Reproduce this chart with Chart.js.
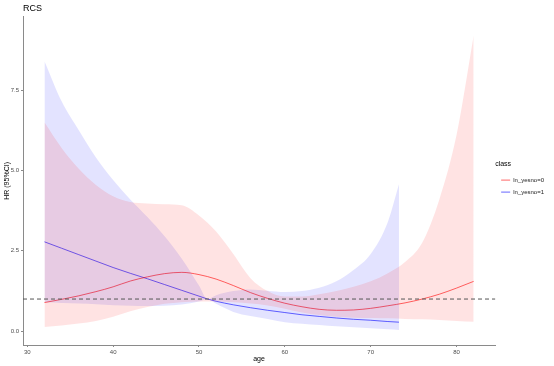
<!DOCTYPE html>
<html lang="en">
<head>
    <meta charset="UTF-8">
    <title>RCS</title>
    <style>
        body {
            margin: 0;
            padding: 0;
            background: #fff;
        }
        canvas {
            display: block;
        }
    </style>
    <script src="https://cdn.jsdelivr.net/npm/chart.js"></script>
</head>
<body>
    <canvas id="rcsChart" width="554" height="366"></canvas>
    <script>
        // ln_yesno=0 (赤)
        const redAges  = [32, 34, 36, 38, 40, 42, 44, 46, 48, 50, 52, 54, 56, 58, 60, 62, 64, 66, 68, 70, 72, 74, 76, 78, 80, 82];
        const redHR    = [0.89, 0.99, 1.10, 1.23, 1.38, 1.56, 1.69, 1.79, 1.83, 1.76, 1.62, 1.42, 1.20, 1.02, 0.87, 0.76, 0.68, 0.65, 0.66, 0.71, 0.79, 0.88, 1.00, 1.15, 1.34, 1.55];
        const redLower = [0.13, 0.18, 0.24, 0.32, 0.45, 0.62, 0.75, 0.85, 0.90, 0.92, 0.92, 0.90, 0.86, 0.80, 0.70, 0.58, 0.50, 0.45, 0.42, 0.41, 0.40, 0.38, 0.37, 0.35, 0.32, 0.29];
        const redUpper = [6.50, 5.70, 5.05, 4.55, 4.20, 4.02, 3.97, 3.95, 3.92, 3.60, 3.10, 2.40, 1.65, 1.25, 1.08, 1.08, 1.15, 1.25, 1.38, 1.55, 1.80, 2.15, 2.75, 4.10, 6.10, 9.20];

        // ln_yesno=1 (青)
        const blueAges  = [32, 34, 36, 38, 40, 42, 44, 46, 48, 50, 51, 52, 54, 56, 58, 60, 62, 64, 66, 68, 70, 72, 73.3];
        const blueHR    = [2.78, 2.58, 2.38, 2.18, 1.98, 1.80, 1.63, 1.45, 1.27, 1.09, 1.00, 0.93, 0.82, 0.73, 0.65, 0.58, 0.51, 0.46, 0.41, 0.37, 0.34, 0.30, 0.28];
        const blueLower = [0.90, 0.88, 0.86, 0.84, 0.81, 0.79, 0.78, 0.79, 0.83, 0.92, 1.00, 0.85, 0.60, 0.47, 0.38, 0.28, 0.23, 0.19, 0.15, 0.12, 0.09, 0.06, 0.04];
        const blueUpper = [8.40, 7.15, 6.25, 5.40, 4.70, 4.10, 3.55, 2.95, 2.25, 1.42, 1.00, 1.12, 1.25, 1.30, 1.26, 1.22, 1.25, 1.35, 1.55, 1.90, 2.40, 3.40, 4.57];

        const classLabels = ['ln_yesno=0', 'ln_yesno=1'];
        const xTicks = [30, 40, 50, 60, 70, 80];
        const yTicks = [0, 2.5, 5, 7.5];
        const refHR = 1;

        const FONT = 'Liberation Sans, Arial, sans-serif';

        const pts = (ages, vals) => ages.map((a, i) => ({ x: a, y: vals[i] }));

        const band = (data, color, fill) => ({
            data: data,
            fill: fill,
            backgroundColor: color,
            borderWidth: 0,
            pointRadius: 0,
            cubicInterpolationMode: 'monotone'
        });

        // y=1 の破線
        const refLinePlugin = {
            id: 'refLine',
            afterDatasetsDraw(chart) {
                const { ctx, chartArea, scales } = chart;
                const y = scales.y.getPixelForValue(refHR);
                ctx.save();
                ctx.strokeStyle = '#555';
                ctx.lineWidth = 1;
                ctx.setLineDash([4, 3]);
                ctx.beginPath();
                ctx.moveTo(chartArea.left, y);
                ctx.lineTo(chartArea.right, y);
                ctx.stroke();
                ctx.restore();
            }
        };

        const axisCommon = {
            type: 'linear',
            grid: { drawOnChartArea: false, tickLength: 2, color: '#8a8a8a' },
            border: { color: '#8a8a8a', width: 1 }
        };

        new Chart(document.getElementById('rcsChart'), {
            type: 'line',
            data: {
                datasets: [
                    band(pts(redAges, redUpper), 'rgba(255,0,0,0.11)', '+1'),
                    band(pts(redAges, redLower), 'transparent', false),
                    band(pts(blueAges, blueUpper), 'rgba(0,0,255,0.11)', '+1'),
                    band(pts(blueAges, blueLower), 'transparent', false),
                    {
                        label: classLabels[0],
                        data: pts(redAges, redHR),
                        borderColor: 'rgba(255,0,0,0.6)',
                        borderWidth: 1,
                        pointRadius: 0,
                        fill: false,
                        cubicInterpolationMode: 'monotone'
                    },
                    {
                        label: classLabels[1],
                        data: pts(blueAges, blueHR),
                        borderColor: 'rgba(0,0,255,0.6)',
                        borderWidth: 1,
                        pointRadius: 0,
                        fill: false,
                        cubicInterpolationMode: 'monotone'
                    }
                ]
            },
            options: {
                responsive: false,
                animation: false,
                layout: { padding: { right: 0 } },
                plugins: {
                    title: {
                        display: true,
                        text: 'RCS',
                        align: 'start',
                        fullSize: false,
                        color: '#000',
                        font: { family: FONT, size: 9, weight: 'normal' },
                        padding: { top: 3, bottom: 3 }
                    },
                    legend: {
                        position: 'right',
                        fullSize: false,
                        title: {
                            display: true,
                            text: 'class',
                            position: 'start',
                            color: '#000',
                            font: { family: FONT, size: 7 },
                            padding: { top: 0, bottom: 2, left: 0 }
                        },
                        labels: {
                            filter: item => item.text !== undefined,
                            usePointStyle: true,
                            pointStyle: 'line',
                            pointStyleWidth: 9,
                            boxHeight: 6,
                            padding: 6,
                            color: '#222',
                            font: { family: FONT, size: 6 }
                        }
                    },
                    tooltip: { enabled: false }
                },
                scales: {
                    x: {
                        ...axisCommon,
                        min: 29.5,
                        max: 84.5,
                        afterBuildTicks: s => { s.ticks = xTicks.map(v => ({ value: v })); },
                        afterFit: s => { s.height = 21; },
                        ticks: {
                            color: '#4d4d4d',
                            padding: 2,
                            maxRotation: 0,
                            font: { family: FONT, size: 6 }
                        },
                        title: {
                            display: true,
                            text: 'age',
                            color: '#000',
                            font: { family: FONT, size: 7 },
                            padding: { top: 0, bottom: 3 }
                        }
                    },
                    y: {
                        ...axisCommon,
                        min: -0.43,
                        max: 9.78,
                        afterBuildTicks: s => { s.ticks = yTicks.map(v => ({ value: v })); },
                        afterFit: s => { s.width = 23; },
                        ticks: {
                            color: '#4d4d4d',
                            padding: 2,
                            callback: v => v.toFixed(1),
                            font: { family: FONT, size: 6 }
                        },
                        title: {
                            display: true,
                            text: 'HR (95%CI)',
                            color: '#000',
                            font: { family: FONT, size: 7 },
                            padding: { top: 3, bottom: 0 }
                        }
                    }
                }
            },
            plugins: [refLinePlugin]
        });
    </script>
</body>
</html>
